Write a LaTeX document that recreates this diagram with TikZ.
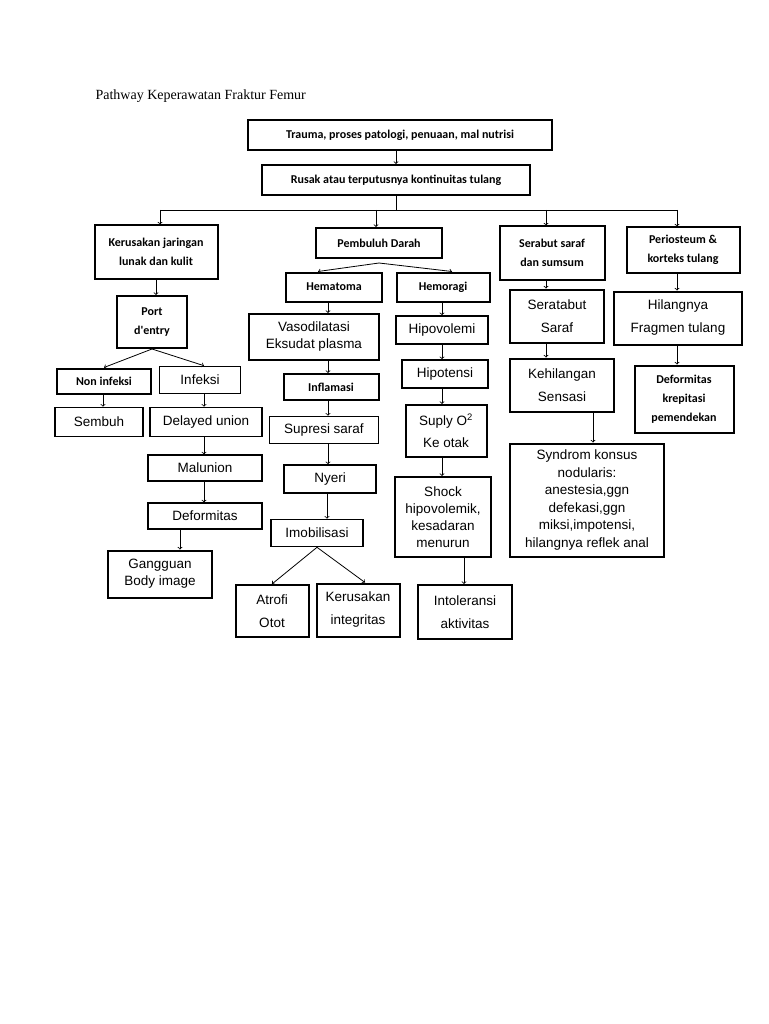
\documentclass[tikz,border=0pt]{standalone}
\usepackage{fontspec}
\setmainfont{Liberation Sans}
\newfontfamily\carfont{Carlito}
\newfontfamily\tnrfont{Liberation Serif}
\begin{document}
\begin{tikzpicture}[x=1pt,y=-1pt,
 bx/.style={draw,line width=2pt,inner sep=0,align=center,font=\fontsize{13.5}{17}\selectfont},
 hb/.style={bx,font=\carfont\bfseries\fontsize{12}{19}\selectfont},
 arr/.style={->,>=to,line width=0.8pt}]
\useasboundingbox (0,0) rectangle (768,1024);
\node[font=\tnrfont\fontsize{14}{16}\selectfont,anchor=west] (title) at (92,96) {Pathway Keperawatan Fraktur Femur};
\node[hb,minimum width=304,minimum height=30] (tr) at (400,135) {Trauma, proses patologi, penuaan, mal nutrisi};
\node[hb,minimum width=268,minimum height=30] (ru) at (396,180) {Rusak atau terputusnya kontinuitas tulang};
\node[hb,minimum width=123,minimum height=53] (kj) at (156,252) {Kerusakan jaringan\\lunak dan kulit};
\node[hb,minimum width=126,minimum height=30] (pd) at (379,243) {Pembuluh Darah};
\node[hb,minimum width=105,minimum height=53] (ss) at (552,253) {Serabut saraf\\dan sumsum};
\node[hb,minimum width=113,minimum height=45] (pe) at (683,250) {Periosteum \&\\korteks tulang};
\node[hb,minimum width=96,minimum height=29] (he) at (334,287) {Hematoma};
\node[hb,minimum width=93,minimum height=29] (hr) at (443,287) {Hemoragi};
\node[hb,minimum width=70,minimum height=52] (po) at (152,322) {Port\\d'entry};
\node[hb,minimum width=94,minimum height=25] (ni) at (104,381) {Non infeksi};
\node[bx,line width=1.6pt,minimum width=81,minimum height=27] (in) at (200,380) {Infeksi};
\node[bx,line width=1.6pt,minimum width=88,minimum height=29] (se) at (99,422) {Sembuh};
\node[bx,line width=1.6pt,minimum width=112,minimum height=29] (du) at (206,422) {Delayed union};
\node[bx,line width=1.2pt,minimum width=114,minimum height=26] (ma) at (205,468) {Malunion};
\node[bx,line width=1.2pt,minimum width=114,minimum height=26] (de) at (205,516) {Deformitas};
\node[bx,minimum width=104,minimum height=47] (ga) at (160,574) {Gangguan\\Body image};
\node[bx,minimum width=130,minimum height=46] (va) at (314,337) {Vasodilatasi\\Eksudat plasma};
\node[hb,minimum width=95,minimum height=26] (if) at (331,387) {Inflamasi};
\node[bx,line width=1.6pt,minimum width=109,minimum height=27] (su) at (324,430) {Supresi saraf};
\node[bx,line width=1.6pt,minimum width=92,minimum height=28] (ny) at (330,479) {Nyeri};
\node[bx,line width=1.6pt,minimum width=92,minimum height=27] (im) at (317,533) {Imobilisasi};
\node[bx,font=\fontsize{13.5}{23}\selectfont,minimum width=73,minimum height=52] (at) at (272,611) {Atrofi\\Otot};
\node[bx,font=\fontsize{13.5}{23}\selectfont,minimum width=83,minimum height=53] (ki) at (358,610) {Kerusakan\\integritas};
\node[bx,line width=1.6pt,minimum width=92,minimum height=28] (hv) at (442,330) {Hipovolemi};
\node[bx,line width=1.6pt,minimum width=86,minimum height=28] (ht) at (445,374) {Hipotensi};
\node[bx,font=\fontsize{13.5}{22}\selectfont,minimum width=81,minimum height=52] (sp) at (446,431) {Suply O\textsuperscript{2}\\Ke otak};
\node[bx,font=\fontsize{13.5}{17}\selectfont,minimum width=96,minimum height=80] (sh) at (443,517) {Shock\\hipovolemik,\\kesadaran\\menurun};
\node[bx,font=\fontsize{13.5}{23}\selectfont,minimum width=94,minimum height=54] (it) at (465,612) {Intoleransi\\aktivitas};
\node[bx,font=\fontsize{13.5}{23}\selectfont,minimum width=94,minimum height=53] (sb) at (557,316) {Seratabut\\Saraf};
\node[bx,font=\fontsize{13.5}{23}\selectfont,minimum width=104,minimum height=53] (kh) at (562,385) {Kehilangan\\Sensasi};
\node[bx,font=\fontsize{13.5}{17.5}\selectfont,minimum width=154,minimum height=113] (sy) at (587,500) {Syndrom konsus\\nodularis:\\anestesia,ggn\\defekasi,ggn\\miksi,impotensi,\\hilangnya reflek anal};
\node[bx,font=\fontsize{13.5}{23}\selectfont,minimum width=128,minimum height=53] (hi) at (678,318) {Hilangnya\\Fragmen tulang};
\node[hb,minimum width=99,minimum height=67] (dk) at (684,399) {Deformitas\\krepitasi\\pemendekan};
% connectors
\draw[arr] (tr.south -| 396,0) -- (ru.north -| 396,0);
\coordinate (bl) at (160,210); \coordinate (br) at (677,210);
\draw[line width=0.8pt] (ru.south -| 396,0) -- (396,210);
\draw[line width=0.8pt] (bl) -- (br);
\draw[arr] (bl) -- (kj.north -| 160,0);
\draw[arr] (376,210) -- (pd.north -| 376,0);
\draw[arr] (546,210) -- (ss.north -| 546,0);
\draw[arr] (br) -- (pe.north -| 677,0);
\draw[arr] (pd.south) ++(0,4) -- (he.north -| 318,0);
\draw[arr] (pd.south) ++(0,4) -- (hr.north -| 452,0);
\draw[arr] (kj.south -| 156,0) -- (po.north -| 156,0);
\draw[arr] (po.south) -- (ni.north -| 104,0);
\draw[arr] (po.south) -- (in.north -| 204,0);
\draw[arr] (ni.south -| 103,0) -- (se.north -| 103,0);
\draw[arr] (in.south -| 204,0) -- (du.north -| 204,0);
\draw[arr] (du.south -| 204,0) -- (ma.north -| 204,0);
\draw[arr] (ma.south -| 204,0) -- (de.north -| 204,0);
\draw[arr] (de.south -| 180,0) -- (ga.north -| 180,0);
\draw[arr] (he.south -| 328,0) -- (va.north -| 328,0);
\draw[arr] (va.south -| 328,0) -- (if.north -| 328,0);
\draw[arr] (if.south -| 328,0) -- (su.north -| 328,0);
\draw[arr] (su.south -| 328,0) -- (ny.north -| 328,0);
\draw[arr] (ny.south -| 327,0) -- (im.north -| 327,0);
\draw[arr] (im.south) -- (at.north);
\draw[arr] (im.south) -- (ki.north -| 365,0);
\draw[arr] (hr.south -| 442,0) -- (hv.north -| 442,0);
\draw[arr] (hv.south -| 442,0) -- (ht.north -| 442,0);
\draw[arr] (ht.south -| 442,0) -- (sp.north -| 442,0);
\draw[arr] (sp.south -| 442,0) -- (sh.north -| 442,0);
\draw[arr] (sh.south -| 464,0) -- (it.north -| 464,0);
\draw[arr] (ss.south -| 546,0) -- (sb.north -| 546,0);
\draw[arr] (sb.south -| 546,0) -- (kh.north -| 546,0);
\draw[arr] (kh.south -| 593,0) -- (sy.north -| 593,0);
\draw[arr] (pe.south -| 677,0) -- (hi.north -| 677,0);
\draw[arr] (hi.south -| 677,0) -- (dk.north -| 677,0);
\end{tikzpicture}
\end{document}
